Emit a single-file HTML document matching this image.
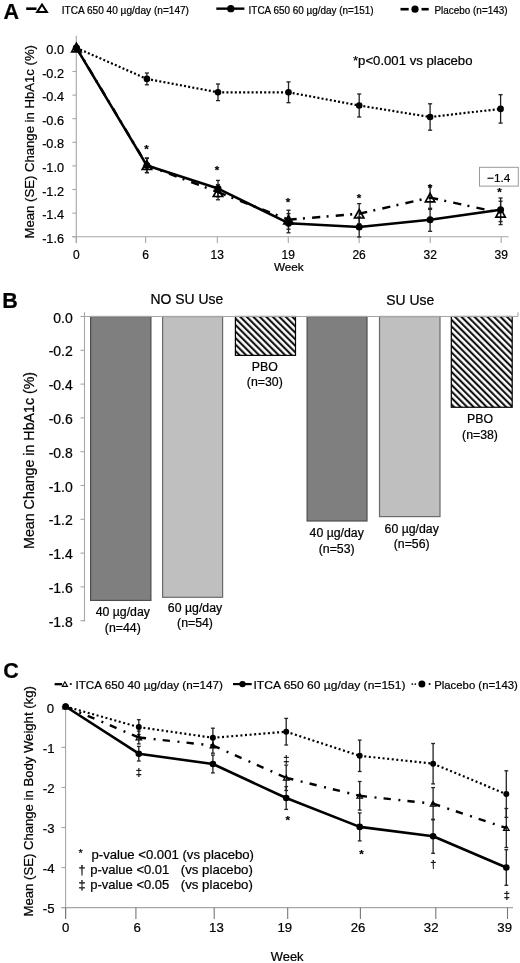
<!DOCTYPE html>
<html><head><meta charset="utf-8"><title>Figure</title>
<style>
html,body{margin:0;padding:0;background:#fff;}
svg{display:block;}
svg text{font-family:"Liberation Sans", Arial, sans-serif;fill:#000;stroke:#000;stroke-width:0.22px;}
</style></head>
<body>
<svg width="520" height="963" viewBox="0 0 520 963">
<rect width="520" height="963" fill="#fff"/>
<text x="3.5" y="18.8" font-size="21.5" text-anchor="start" font-weight="bold">A</text>
<line x1="26.2" y1="8.7" x2="36.5" y2="8.7" stroke="#000" stroke-width="2.6"/>
<polygon points="42.00,4.50 46.90,12.10 37.10,12.10" fill="none" stroke="#000" stroke-width="2.0" stroke-linejoin="miter"/>
<text x="61.7" y="14" font-size="10.2" text-anchor="start" textLength="127.3" lengthAdjust="spacingAndGlyphs">ITCA 650 40 µg/day (n=147)</text>
<line x1="216.3" y1="8.65" x2="244.4" y2="8.65" stroke="#000" stroke-width="2.4"/>
<circle cx="230.8" cy="8.65" r="3.7" fill="#000"/>
<text x="248.6" y="13.8" font-size="10.2" text-anchor="start" textLength="125" lengthAdjust="spacingAndGlyphs">ITCA 650 60 µg/day (n=151)</text>
<line x1="400.5" y1="9.2" x2="408.7" y2="9.2" stroke="#000" stroke-width="2.6"/>
<circle cx="415" cy="9.2" r="3.6" fill="#000"/>
<line x1="421.5" y1="9.2" x2="428.7" y2="9.2" stroke="#000" stroke-width="2.6"/>
<text x="434.5" y="13.9" font-size="10.2" text-anchor="start" textLength="73" lengthAdjust="spacingAndGlyphs">Placebo (n=143)</text>
<line x1="76.3" y1="35.8" x2="76.3" y2="243" stroke="#a6a6a6" stroke-width="1.1"/>
<line x1="72.4" y1="236.7" x2="508.6" y2="236.7" stroke="#a6a6a6" stroke-width="1.1"/>
<line x1="72.4" y1="47.9" x2="76.3" y2="47.9" stroke="#a6a6a6" stroke-width="1.1"/>
<text x="64.0" y="53.9" font-size="12.7" text-anchor="end">0.0</text>
<line x1="72.4" y1="71.5" x2="76.3" y2="71.5" stroke="#a6a6a6" stroke-width="1.1"/>
<text x="64.0" y="77.5" font-size="12.7" text-anchor="end">-0.2</text>
<line x1="72.4" y1="95.1" x2="76.3" y2="95.1" stroke="#a6a6a6" stroke-width="1.1"/>
<text x="64.0" y="101.1" font-size="12.7" text-anchor="end">-0.4</text>
<line x1="72.4" y1="118.7" x2="76.3" y2="118.7" stroke="#a6a6a6" stroke-width="1.1"/>
<text x="64.0" y="124.7" font-size="12.7" text-anchor="end">-0.6</text>
<line x1="72.4" y1="142.3" x2="76.3" y2="142.3" stroke="#a6a6a6" stroke-width="1.1"/>
<text x="64.0" y="148.3" font-size="12.7" text-anchor="end">-0.8</text>
<line x1="72.4" y1="165.9" x2="76.3" y2="165.9" stroke="#a6a6a6" stroke-width="1.1"/>
<text x="64.0" y="171.9" font-size="12.7" text-anchor="end">-1.0</text>
<line x1="72.4" y1="189.5" x2="76.3" y2="189.5" stroke="#a6a6a6" stroke-width="1.1"/>
<text x="64.0" y="195.5" font-size="12.7" text-anchor="end">-1.2</text>
<line x1="72.4" y1="213.1" x2="76.3" y2="213.1" stroke="#a6a6a6" stroke-width="1.1"/>
<text x="64.0" y="219.1" font-size="12.7" text-anchor="end">-1.4</text>
<line x1="72.4" y1="236.7" x2="76.3" y2="236.7" stroke="#a6a6a6" stroke-width="1.1"/>
<text x="64.0" y="242.7" font-size="12.7" text-anchor="end">-1.6</text>
<line x1="76.3" y1="236.7" x2="76.3" y2="243" stroke="#a6a6a6" stroke-width="1.1"/>
<text x="76.3" y="258.8" font-size="12" text-anchor="middle">0</text>
<line x1="145.6" y1="236.7" x2="145.6" y2="243" stroke="#a6a6a6" stroke-width="1.1"/>
<text x="145.6" y="258.8" font-size="12" text-anchor="middle">6</text>
<line x1="217.3" y1="236.7" x2="217.3" y2="243" stroke="#a6a6a6" stroke-width="1.1"/>
<text x="217.3" y="258.8" font-size="12" text-anchor="middle">13</text>
<line x1="288.3" y1="236.7" x2="288.3" y2="243" stroke="#a6a6a6" stroke-width="1.1"/>
<text x="288.3" y="258.8" font-size="12" text-anchor="middle">19</text>
<line x1="359.1" y1="236.7" x2="359.1" y2="243" stroke="#a6a6a6" stroke-width="1.1"/>
<text x="359.1" y="258.8" font-size="12" text-anchor="middle">26</text>
<line x1="430.2" y1="236.7" x2="430.2" y2="243" stroke="#a6a6a6" stroke-width="1.1"/>
<text x="430.2" y="258.8" font-size="12" text-anchor="middle">32</text>
<line x1="501.2" y1="236.7" x2="501.2" y2="243" stroke="#a6a6a6" stroke-width="1.1"/>
<text x="501.2" y="258.8" font-size="12" text-anchor="middle">39</text>
<text x="288.8" y="270.9" font-size="11.7" text-anchor="middle">Week</text>
<text transform="translate(33.6,238.5) rotate(-90)" font-size="13.3" textLength="193.5" lengthAdjust="spacingAndGlyphs">Mean (SE) Change in HbA1c (%)</text>
<text x="353" y="64.5" font-size="13" text-anchor="start" textLength="119.5" lengthAdjust="spacingAndGlyphs">*p&lt;0.001 vs placebo</text>
<line x1="146.9" y1="157.9" x2="146.9" y2="172.5" stroke="#222" stroke-width="1.3"/>
<line x1="144.85" y1="157.9" x2="148.95" y2="157.9" stroke="#222" stroke-width="1.3"/>
<line x1="144.85" y1="172.5" x2="148.95" y2="172.5" stroke="#222" stroke-width="1.3"/>
<line x1="146.9" y1="158.4" x2="146.9" y2="172.8" stroke="#222" stroke-width="1.3"/>
<line x1="144.85" y1="158.4" x2="148.95" y2="158.4" stroke="#222" stroke-width="1.3"/>
<line x1="144.85" y1="172.8" x2="148.95" y2="172.8" stroke="#222" stroke-width="1.3"/>
<line x1="146.9" y1="73.0" x2="146.9" y2="84.8" stroke="#222" stroke-width="1.3"/>
<line x1="144.85" y1="73.0" x2="148.95" y2="73.0" stroke="#222" stroke-width="1.3"/>
<line x1="144.85" y1="84.8" x2="148.95" y2="84.8" stroke="#222" stroke-width="1.3"/>
<line x1="218.0" y1="184.6" x2="218.0" y2="199.8" stroke="#222" stroke-width="1.3"/>
<line x1="215.95" y1="184.6" x2="220.05" y2="184.6" stroke="#222" stroke-width="1.3"/>
<line x1="215.95" y1="199.8" x2="220.05" y2="199.8" stroke="#222" stroke-width="1.3"/>
<line x1="218.0" y1="180.4" x2="218.0" y2="196.8" stroke="#222" stroke-width="1.3"/>
<line x1="215.95" y1="180.4" x2="220.05" y2="180.4" stroke="#222" stroke-width="1.3"/>
<line x1="215.95" y1="196.8" x2="220.05" y2="196.8" stroke="#222" stroke-width="1.3"/>
<line x1="218.0" y1="84.0" x2="218.0" y2="100.6" stroke="#222" stroke-width="1.3"/>
<line x1="215.95" y1="84.0" x2="220.05" y2="84.0" stroke="#222" stroke-width="1.3"/>
<line x1="215.95" y1="100.6" x2="220.05" y2="100.6" stroke="#222" stroke-width="1.3"/>
<line x1="288.5" y1="210.2" x2="288.5" y2="229.2" stroke="#222" stroke-width="1.3"/>
<line x1="286.45" y1="210.2" x2="290.55" y2="210.2" stroke="#222" stroke-width="1.3"/>
<line x1="286.45" y1="229.2" x2="290.55" y2="229.2" stroke="#222" stroke-width="1.3"/>
<line x1="288.5" y1="213.6" x2="288.5" y2="232.8" stroke="#222" stroke-width="1.3"/>
<line x1="286.45" y1="213.6" x2="290.55" y2="213.6" stroke="#222" stroke-width="1.3"/>
<line x1="286.45" y1="232.8" x2="290.55" y2="232.8" stroke="#222" stroke-width="1.3"/>
<line x1="288.5" y1="81.9" x2="288.5" y2="102.7" stroke="#222" stroke-width="1.3"/>
<line x1="286.45" y1="81.9" x2="290.55" y2="81.9" stroke="#222" stroke-width="1.3"/>
<line x1="286.45" y1="102.7" x2="290.55" y2="102.7" stroke="#222" stroke-width="1.3"/>
<line x1="359.2" y1="203.6" x2="359.2" y2="223.8" stroke="#222" stroke-width="1.3"/>
<line x1="357.15" y1="203.6" x2="361.25" y2="203.6" stroke="#222" stroke-width="1.3"/>
<line x1="357.15" y1="223.8" x2="361.25" y2="223.8" stroke="#222" stroke-width="1.3"/>
<line x1="359.2" y1="217.0" x2="359.2" y2="237.0" stroke="#222" stroke-width="1.3"/>
<line x1="357.15" y1="217.0" x2="361.25" y2="217.0" stroke="#222" stroke-width="1.3"/>
<line x1="357.15" y1="237.0" x2="361.25" y2="237.0" stroke="#222" stroke-width="1.3"/>
<line x1="359.2" y1="94.0" x2="359.2" y2="117.0" stroke="#222" stroke-width="1.3"/>
<line x1="357.15" y1="94.0" x2="361.25" y2="94.0" stroke="#222" stroke-width="1.3"/>
<line x1="357.15" y1="117.0" x2="361.25" y2="117.0" stroke="#222" stroke-width="1.3"/>
<line x1="430.1" y1="185.8" x2="430.1" y2="209.4" stroke="#222" stroke-width="1.3"/>
<line x1="428.05" y1="185.8" x2="432.15" y2="185.8" stroke="#222" stroke-width="1.3"/>
<line x1="428.05" y1="209.4" x2="432.15" y2="209.4" stroke="#222" stroke-width="1.3"/>
<line x1="430.1" y1="208.3" x2="430.1" y2="231.3" stroke="#222" stroke-width="1.3"/>
<line x1="428.05" y1="208.3" x2="432.15" y2="208.3" stroke="#222" stroke-width="1.3"/>
<line x1="428.05" y1="231.3" x2="432.15" y2="231.3" stroke="#222" stroke-width="1.3"/>
<line x1="430.1" y1="103.8" x2="430.1" y2="130.2" stroke="#222" stroke-width="1.3"/>
<line x1="428.05" y1="103.8" x2="432.15" y2="103.8" stroke="#222" stroke-width="1.3"/>
<line x1="428.05" y1="130.2" x2="432.15" y2="130.2" stroke="#222" stroke-width="1.3"/>
<line x1="500.6" y1="201.2" x2="500.6" y2="224.6" stroke="#222" stroke-width="1.3"/>
<line x1="498.55" y1="201.2" x2="502.65" y2="201.2" stroke="#222" stroke-width="1.3"/>
<line x1="498.55" y1="224.6" x2="502.65" y2="224.6" stroke="#222" stroke-width="1.3"/>
<line x1="500.6" y1="198.0" x2="500.6" y2="221.6" stroke="#222" stroke-width="1.3"/>
<line x1="498.55" y1="198.0" x2="502.65" y2="198.0" stroke="#222" stroke-width="1.3"/>
<line x1="498.55" y1="221.6" x2="502.65" y2="221.6" stroke="#222" stroke-width="1.3"/>
<line x1="500.6" y1="94.7" x2="500.6" y2="123.1" stroke="#222" stroke-width="1.3"/>
<line x1="498.55" y1="94.7" x2="502.65" y2="94.7" stroke="#222" stroke-width="1.3"/>
<line x1="498.55" y1="123.1" x2="502.65" y2="123.1" stroke="#222" stroke-width="1.3"/>
<line x1="76.4" y1="47.5" x2="146.9" y2="165.2" stroke="#000" stroke-width="2.5" stroke-dasharray="8.2 6.3 2 7.2" stroke-linecap="butt"/>
<line x1="146.9" y1="165.2" x2="218.0" y2="192.2" stroke="#000" stroke-width="2.5" stroke-dasharray="8.2 6.3 2 7.2" stroke-linecap="butt"/>
<line x1="218.0" y1="192.2" x2="288.5" y2="219.7" stroke="#000" stroke-width="2.5" stroke-dasharray="8.2 6.3 2 7.2" stroke-linecap="butt"/>
<line x1="288.5" y1="219.7" x2="359.2" y2="213.7" stroke="#000" stroke-width="2.5" stroke-dasharray="8.2 6.3 2 7.2" stroke-linecap="butt"/>
<line x1="359.2" y1="213.7" x2="430.1" y2="197.6" stroke="#000" stroke-width="2.5" stroke-dasharray="8.2 6.3 2 7.2" stroke-linecap="butt"/>
<line x1="430.1" y1="197.6" x2="500.6" y2="212.9" stroke="#000" stroke-width="2.5" stroke-dasharray="8.2 6.3 2 7.2" stroke-linecap="butt"/>
<polyline points="76.4,47.9 146.9,165.6 218.0,188.6 288.5,223.2 359.2,227.0 430.1,219.8 500.6,209.8" fill="none" stroke="#000" stroke-width="2.6" stroke-linejoin="round"/>
<line x1="76.4" y1="47.9" x2="146.9" y2="78.9" stroke="#000" stroke-width="2.2" stroke-dasharray="2 2.2" stroke-linecap="butt"/>
<line x1="146.9" y1="78.9" x2="218.0" y2="92.3" stroke="#000" stroke-width="2.2" stroke-dasharray="2 2.2" stroke-linecap="butt"/>
<line x1="218.0" y1="92.3" x2="288.5" y2="92.3" stroke="#000" stroke-width="2.2" stroke-dasharray="2 2.2" stroke-linecap="butt"/>
<line x1="288.5" y1="92.3" x2="359.2" y2="105.5" stroke="#000" stroke-width="2.2" stroke-dasharray="2 2.2" stroke-linecap="butt"/>
<line x1="359.2" y1="105.5" x2="430.1" y2="117.0" stroke="#000" stroke-width="2.2" stroke-dasharray="2 2.2" stroke-linecap="butt"/>
<line x1="430.1" y1="117.0" x2="500.6" y2="108.9" stroke="#000" stroke-width="2.2" stroke-dasharray="2 2.2" stroke-linecap="butt"/>
<polygon points="76.40,43.20 81.10,51.80 71.70,51.80" fill="none" stroke="#000" stroke-width="1.7" stroke-linejoin="miter"/>
<polygon points="146.90,160.90 151.60,169.50 142.20,169.50" fill="none" stroke="#000" stroke-width="1.7" stroke-linejoin="miter"/>
<polygon points="218.00,187.90 222.70,196.50 213.30,196.50" fill="none" stroke="#000" stroke-width="1.7" stroke-linejoin="miter"/>
<polygon points="288.50,215.40 293.20,224.00 283.80,224.00" fill="none" stroke="#000" stroke-width="1.7" stroke-linejoin="miter"/>
<polygon points="359.20,209.40 363.90,218.00 354.50,218.00" fill="none" stroke="#000" stroke-width="1.7" stroke-linejoin="miter"/>
<polygon points="430.10,193.30 434.80,201.90 425.40,201.90" fill="none" stroke="#000" stroke-width="1.7" stroke-linejoin="miter"/>
<polygon points="500.60,208.60 505.30,217.20 495.90,217.20" fill="none" stroke="#000" stroke-width="1.7" stroke-linejoin="miter"/>
<circle cx="76.4" cy="47.9" r="3.5" fill="#000"/>
<circle cx="146.9" cy="165.6" r="3.5" fill="#000"/>
<circle cx="218.0" cy="188.6" r="3.5" fill="#000"/>
<circle cx="288.5" cy="223.2" r="3.5" fill="#000"/>
<circle cx="359.2" cy="227.0" r="3.5" fill="#000"/>
<circle cx="430.1" cy="219.8" r="3.5" fill="#000"/>
<circle cx="500.6" cy="209.8" r="3.5" fill="#000"/>
<circle cx="76.4" cy="47.9" r="3.3" fill="#000"/>
<circle cx="146.9" cy="78.9" r="3.3" fill="#000"/>
<circle cx="218.0" cy="92.3" r="3.3" fill="#000"/>
<circle cx="288.5" cy="92.3" r="3.3" fill="#000"/>
<circle cx="359.2" cy="105.5" r="3.3" fill="#000"/>
<circle cx="430.1" cy="117.0" r="3.3" fill="#000"/>
<circle cx="500.6" cy="108.9" r="3.3" fill="#000"/>
<text x="146.6" y="152.6" font-size="11.5" text-anchor="middle" font-weight="bold">*</text>
<text x="216.9" y="174.0" font-size="11.5" text-anchor="middle" font-weight="bold">*</text>
<text x="288" y="206.1" font-size="11.5" text-anchor="middle" font-weight="bold">*</text>
<text x="359" y="201.8" font-size="11.5" text-anchor="middle" font-weight="bold">*</text>
<text x="430" y="191.7" font-size="11.5" text-anchor="middle" font-weight="bold">*</text>
<text x="499.6" y="196.3" font-size="11.5" text-anchor="middle" font-weight="bold">*</text>
<rect x="479.5" y="167.3" width="38.8" height="18.8" fill="#fff" stroke="#9a9a9a" stroke-width="1"/>
<text x="498.8" y="181.6" font-size="11.8" text-anchor="middle">−1.4</text>
<text x="2.3" y="308" font-size="21.5" text-anchor="start" font-weight="bold">B</text>
<text x="150.5" y="303.75" font-size="14" text-anchor="start" textLength="72.7" lengthAdjust="spacingAndGlyphs">NO SU Use</text>
<text x="386.3" y="304.8" font-size="14.2" text-anchor="start" textLength="48" lengthAdjust="spacingAndGlyphs">SU Use</text>
<defs><pattern id="hatch" patternUnits="userSpaceOnUse" width="4.6" height="4.6" patternTransform="rotate(45)"><rect x="0" y="2.5" width="4.6" height="1.95" fill="#000"/></pattern></defs>
<rect x="90.6" y="316.5" width="60.30" height="283.92" fill="#7f7f7f" stroke="#4d4d4d" stroke-width="1.2"/>
<rect x="162.6" y="316.5" width="60.00" height="280.79" fill="#bfbfbf" stroke="#6a6a6a" stroke-width="1.2"/>
<rect x="235.4" y="316.5" width="60.10" height="38.87" fill="#fff"/>
<rect x="235.4" y="316.5" width="60.10" height="38.87" fill="url(#hatch)" stroke="#000" stroke-width="1.2"/>
<rect x="307.1" y="316.5" width="59.90" height="204.49" fill="#7f7f7f" stroke="#4d4d4d" stroke-width="1.2"/>
<rect x="379.5" y="316.5" width="60.50" height="200.10" fill="#bfbfbf" stroke="#6a6a6a" stroke-width="1.2"/>
<rect x="451.3" y="316.5" width="60.90" height="90.75" fill="#fff"/>
<rect x="451.3" y="316.5" width="60.90" height="90.75" fill="url(#hatch)" stroke="#000" stroke-width="1.2"/>
<line x1="84.5" y1="312.2" x2="84.5" y2="621.4" stroke="#a6a6a6" stroke-width="1.1"/>
<line x1="84.5" y1="316.5" x2="518" y2="316.5" stroke="#a6a6a6" stroke-width="1.1"/>
<line x1="518" y1="312.3" x2="518" y2="316.5" stroke="#a6a6a6" stroke-width="1.1"/>
<line x1="80.5" y1="316.5" x2="84.5" y2="316.5" stroke="#a6a6a6" stroke-width="1.1"/>
<text x="72.8" y="322.6" font-size="14" text-anchor="end">0.0</text>
<line x1="80.5" y1="350.3" x2="84.5" y2="350.3" stroke="#a6a6a6" stroke-width="1.1"/>
<text x="72.8" y="356.4" font-size="14" text-anchor="end">-0.2</text>
<line x1="80.5" y1="384.1" x2="84.5" y2="384.1" stroke="#a6a6a6" stroke-width="1.1"/>
<text x="72.8" y="390.2" font-size="14" text-anchor="end">-0.4</text>
<line x1="80.5" y1="417.9" x2="84.5" y2="417.9" stroke="#a6a6a6" stroke-width="1.1"/>
<text x="72.8" y="424.0" font-size="14" text-anchor="end">-0.6</text>
<line x1="80.5" y1="451.7" x2="84.5" y2="451.7" stroke="#a6a6a6" stroke-width="1.1"/>
<text x="72.8" y="457.8" font-size="14" text-anchor="end">-0.8</text>
<line x1="80.5" y1="485.5" x2="84.5" y2="485.5" stroke="#a6a6a6" stroke-width="1.1"/>
<text x="72.8" y="491.6" font-size="14" text-anchor="end">-1.0</text>
<line x1="80.5" y1="519.3" x2="84.5" y2="519.3" stroke="#a6a6a6" stroke-width="1.1"/>
<text x="72.8" y="525.4" font-size="14" text-anchor="end">-1.2</text>
<line x1="80.5" y1="553.1" x2="84.5" y2="553.1" stroke="#a6a6a6" stroke-width="1.1"/>
<text x="72.8" y="559.2" font-size="14" text-anchor="end">-1.4</text>
<line x1="80.5" y1="586.9" x2="84.5" y2="586.9" stroke="#a6a6a6" stroke-width="1.1"/>
<text x="72.8" y="593.0" font-size="14" text-anchor="end">-1.6</text>
<line x1="80.5" y1="620.7" x2="84.5" y2="620.7" stroke="#a6a6a6" stroke-width="1.1"/>
<text x="72.8" y="626.8" font-size="14" text-anchor="end">-1.8</text>
<text transform="translate(34.3,548.9) rotate(-90)" font-size="13.8" textLength="177" lengthAdjust="spacingAndGlyphs">Mean Change in HbA1c (%)</text>
<text x="122.8" y="616.3" font-size="12.3" text-anchor="middle">40 µg/day</text>
<text x="122.8" y="631.9" font-size="12.3" text-anchor="middle">(n=44)</text>
<text x="195" y="611.6" font-size="12.3" text-anchor="middle">60 µg/day</text>
<text x="195" y="627.2" font-size="12.3" text-anchor="middle">(n=54)</text>
<text x="264.8" y="370.6" font-size="12.3" text-anchor="middle">PBO</text>
<text x="264.8" y="386.2" font-size="12.3" text-anchor="middle">(n=30)</text>
<text x="336.7" y="537.3" font-size="12.3" text-anchor="middle">40 µg/day</text>
<text x="336.7" y="552.9" font-size="12.3" text-anchor="middle">(n=53)</text>
<text x="411.7" y="532.8" font-size="12.3" text-anchor="middle">60 µg/day</text>
<text x="411.7" y="548.4" font-size="12.3" text-anchor="middle">(n=56)</text>
<text x="480" y="423.2" font-size="12.3" text-anchor="middle">PBO</text>
<text x="480" y="438.8" font-size="12.3" text-anchor="middle">(n=38)</text>
<text x="3.2" y="677.8" font-size="21.5" text-anchor="start" font-weight="bold">C</text>
<line x1="54.6" y1="684.2" x2="62.2" y2="684.2" stroke="#000" stroke-width="2.3"/>
<polygon points="64.90,681.80 67.50,686.40 62.30,686.40" fill="none" stroke="#000" stroke-width="1.1" stroke-linejoin="miter"/>
<circle cx="70.8" cy="684" r="1.1" fill="#000"/>
<text x="75.4" y="689.4" font-size="11.8" text-anchor="start" textLength="147.5" lengthAdjust="spacingAndGlyphs">ITCA 650 40 µg/day (n=147)</text>
<line x1="233" y1="684.1" x2="251.7" y2="684.1" stroke="#000" stroke-width="2.2"/>
<circle cx="242.5" cy="684.1" r="3.2" fill="#000"/>
<text x="253.5" y="689.4" font-size="11.8" text-anchor="start" textLength="152" lengthAdjust="spacingAndGlyphs">ITCA 650 60 µg/day (n=151)</text>
<circle cx="412.3" cy="684.1" r="0.9" fill="#000"/>
<circle cx="415.3" cy="684.1" r="0.9" fill="#000"/>
<circle cx="421.9" cy="684.1" r="3.5" fill="#000"/>
<circle cx="429.6" cy="684.1" r="1.0" fill="#000"/>
<text x="434.2" y="689.4" font-size="11.8" text-anchor="start" textLength="83.6" lengthAdjust="spacingAndGlyphs">Placebo (n=143)</text>
<line x1="65.6" y1="707.4" x2="65.6" y2="918.5" stroke="#a6a6a6" stroke-width="1.1"/>
<line x1="61.5" y1="907.6" x2="513" y2="907.6" stroke="#a6a6a6" stroke-width="1.1"/>
<line x1="61.5" y1="707.4" x2="65.6" y2="707.4" stroke="#a6a6a6" stroke-width="1.1"/>
<text x="54.0" y="712.6" font-size="13.2" text-anchor="end">0</text>
<line x1="61.5" y1="747.44" x2="65.6" y2="747.44" stroke="#a6a6a6" stroke-width="1.1"/>
<text x="54.6" y="752.64" font-size="13.2" text-anchor="end">-1</text>
<line x1="61.5" y1="787.48" x2="65.6" y2="787.48" stroke="#a6a6a6" stroke-width="1.1"/>
<text x="54.6" y="792.68" font-size="13.2" text-anchor="end">-2</text>
<line x1="61.5" y1="827.52" x2="65.6" y2="827.52" stroke="#a6a6a6" stroke-width="1.1"/>
<text x="54.6" y="832.72" font-size="13.2" text-anchor="end">-3</text>
<line x1="61.5" y1="867.56" x2="65.6" y2="867.56" stroke="#a6a6a6" stroke-width="1.1"/>
<text x="54.6" y="872.76" font-size="13.2" text-anchor="end">-4</text>
<line x1="61.5" y1="907.6" x2="65.6" y2="907.6" stroke="#a6a6a6" stroke-width="1.1"/>
<text x="54.6" y="912.8" font-size="13.2" text-anchor="end">-5</text>
<line x1="65.6" y1="907.6" x2="65.6" y2="919" stroke="#777" stroke-width="1.1"/>
<text x="65.6" y="932.2" font-size="13.2" text-anchor="middle">0</text>
<line x1="135.9" y1="907.6" x2="135.9" y2="919" stroke="#777" stroke-width="1.1"/>
<text x="137.1" y="932.2" font-size="13.2" text-anchor="middle">6</text>
<line x1="214.2" y1="907.6" x2="214.2" y2="919" stroke="#777" stroke-width="1.1"/>
<text x="216.4" y="932.2" font-size="13.2" text-anchor="middle">13</text>
<line x1="287.7" y1="907.6" x2="287.7" y2="919" stroke="#777" stroke-width="1.1"/>
<text x="284.8" y="932.2" font-size="13.2" text-anchor="middle">19</text>
<line x1="360.4" y1="907.6" x2="360.4" y2="919" stroke="#777" stroke-width="1.1"/>
<text x="358.1" y="932.2" font-size="13.2" text-anchor="middle">26</text>
<line x1="435.8" y1="907.6" x2="435.8" y2="919" stroke="#777" stroke-width="1.1"/>
<text x="431.2" y="932.2" font-size="13.2" text-anchor="middle">32</text>
<line x1="507.5" y1="907.6" x2="507.5" y2="919" stroke="#777" stroke-width="1.1"/>
<text x="504.7" y="932.2" font-size="13.2" text-anchor="middle">39</text>
<text x="287.2" y="960.8" font-size="12.9" text-anchor="middle">Week</text>
<text transform="translate(33.3,916.4) rotate(-90)" font-size="12.8" textLength="230.2" lengthAdjust="spacingAndGlyphs">Mean (SE) Change in Body Weight (kg)</text>
<text x="80.6" y="857.2" font-size="11" text-anchor="middle">*</text>
<text x="91.5" y="858.8" font-size="13" text-anchor="start" textLength="162.5" lengthAdjust="spacingAndGlyphs">p-value &lt;0.001 (vs placebo)</text>
<text x="81.9" y="873.5" font-size="12.5" text-anchor="middle">†</text>
<text x="90.2" y="873.5" font-size="13" text-anchor="start">p-value &lt;0.01</text>
<text x="180.8" y="873.5" font-size="13" text-anchor="start" textLength="72" lengthAdjust="spacingAndGlyphs">(vs placebo)</text>
<text x="81.9" y="888.8" font-size="12.5" text-anchor="middle">‡</text>
<text x="90.2" y="888.8" font-size="13" text-anchor="start">p-value &lt;0.05</text>
<text x="180.8" y="888.8" font-size="13" text-anchor="start" textLength="72" lengthAdjust="spacingAndGlyphs">(vs placebo)</text>
<line x1="138.8" y1="731.1" x2="138.8" y2="743.9" stroke="#222" stroke-width="1.3"/>
<line x1="136.9" y1="731.1" x2="140.7" y2="731.1" stroke="#222" stroke-width="1.3"/>
<line x1="136.9" y1="743.9" x2="140.7" y2="743.9" stroke="#222" stroke-width="1.3"/>
<line x1="138.8" y1="746.4" x2="138.8" y2="761.0" stroke="#222" stroke-width="1.3"/>
<line x1="136.9" y1="746.4" x2="140.7" y2="746.4" stroke="#222" stroke-width="1.3"/>
<line x1="136.9" y1="761.0" x2="140.7" y2="761.0" stroke="#222" stroke-width="1.3"/>
<line x1="138.8" y1="719.7" x2="138.8" y2="734.5" stroke="#222" stroke-width="1.3"/>
<line x1="136.9" y1="719.7" x2="140.7" y2="719.7" stroke="#222" stroke-width="1.3"/>
<line x1="136.9" y1="734.5" x2="140.7" y2="734.5" stroke="#222" stroke-width="1.3"/>
<line x1="212.9" y1="737.8" x2="212.9" y2="753.2" stroke="#222" stroke-width="1.3"/>
<line x1="211.0" y1="737.8" x2="214.8" y2="737.8" stroke="#222" stroke-width="1.3"/>
<line x1="211.0" y1="753.2" x2="214.8" y2="753.2" stroke="#222" stroke-width="1.3"/>
<line x1="212.9" y1="755.1" x2="212.9" y2="772.9" stroke="#222" stroke-width="1.3"/>
<line x1="211.0" y1="755.1" x2="214.8" y2="755.1" stroke="#222" stroke-width="1.3"/>
<line x1="211.0" y1="772.9" x2="214.8" y2="772.9" stroke="#222" stroke-width="1.3"/>
<line x1="212.9" y1="728.2" x2="212.9" y2="747.4" stroke="#222" stroke-width="1.3"/>
<line x1="211.0" y1="728.2" x2="214.8" y2="728.2" stroke="#222" stroke-width="1.3"/>
<line x1="211.0" y1="747.4" x2="214.8" y2="747.4" stroke="#222" stroke-width="1.3"/>
<line x1="286.2" y1="765.1" x2="286.2" y2="790.5" stroke="#222" stroke-width="1.3"/>
<line x1="284.3" y1="765.1" x2="288.1" y2="765.1" stroke="#222" stroke-width="1.3"/>
<line x1="284.3" y1="790.5" x2="288.1" y2="790.5" stroke="#222" stroke-width="1.3"/>
<line x1="286.2" y1="786.6" x2="286.2" y2="809.4" stroke="#222" stroke-width="1.3"/>
<line x1="284.3" y1="786.6" x2="288.1" y2="786.6" stroke="#222" stroke-width="1.3"/>
<line x1="284.3" y1="809.4" x2="288.1" y2="809.4" stroke="#222" stroke-width="1.3"/>
<line x1="286.2" y1="718.4" x2="286.2" y2="745.0" stroke="#222" stroke-width="1.3"/>
<line x1="284.3" y1="718.4" x2="288.1" y2="718.4" stroke="#222" stroke-width="1.3"/>
<line x1="284.3" y1="745.0" x2="288.1" y2="745.0" stroke="#222" stroke-width="1.3"/>
<line x1="359.7" y1="781.5" x2="359.7" y2="810.1" stroke="#222" stroke-width="1.3"/>
<line x1="357.8" y1="781.5" x2="361.6" y2="781.5" stroke="#222" stroke-width="1.3"/>
<line x1="357.8" y1="810.1" x2="361.6" y2="810.1" stroke="#222" stroke-width="1.3"/>
<line x1="359.7" y1="812.9" x2="359.7" y2="840.9" stroke="#222" stroke-width="1.3"/>
<line x1="357.8" y1="812.9" x2="361.6" y2="812.9" stroke="#222" stroke-width="1.3"/>
<line x1="357.8" y1="840.9" x2="361.6" y2="840.9" stroke="#222" stroke-width="1.3"/>
<line x1="359.7" y1="740.1" x2="359.7" y2="771.5" stroke="#222" stroke-width="1.3"/>
<line x1="357.8" y1="740.1" x2="361.6" y2="740.1" stroke="#222" stroke-width="1.3"/>
<line x1="357.8" y1="771.5" x2="361.6" y2="771.5" stroke="#222" stroke-width="1.3"/>
<line x1="433.1" y1="787.6" x2="433.1" y2="819.8" stroke="#222" stroke-width="1.3"/>
<line x1="431.2" y1="787.6" x2="435.0" y2="787.6" stroke="#222" stroke-width="1.3"/>
<line x1="431.2" y1="819.8" x2="435.0" y2="819.8" stroke="#222" stroke-width="1.3"/>
<line x1="433.1" y1="819.3" x2="433.1" y2="853.3" stroke="#222" stroke-width="1.3"/>
<line x1="431.2" y1="819.3" x2="435.0" y2="819.3" stroke="#222" stroke-width="1.3"/>
<line x1="431.2" y1="853.3" x2="435.0" y2="853.3" stroke="#222" stroke-width="1.3"/>
<line x1="433.1" y1="743.5" x2="433.1" y2="783.9" stroke="#222" stroke-width="1.3"/>
<line x1="431.2" y1="743.5" x2="435.0" y2="743.5" stroke="#222" stroke-width="1.3"/>
<line x1="431.2" y1="783.9" x2="435.0" y2="783.9" stroke="#222" stroke-width="1.3"/>
<line x1="506.3" y1="808.5" x2="506.3" y2="847.5" stroke="#222" stroke-width="1.3"/>
<line x1="504.4" y1="808.5" x2="508.2" y2="808.5" stroke="#222" stroke-width="1.3"/>
<line x1="504.4" y1="847.5" x2="508.2" y2="847.5" stroke="#222" stroke-width="1.3"/>
<line x1="506.3" y1="849.7" x2="506.3" y2="885.3" stroke="#222" stroke-width="1.3"/>
<line x1="504.4" y1="849.7" x2="508.2" y2="849.7" stroke="#222" stroke-width="1.3"/>
<line x1="504.4" y1="885.3" x2="508.2" y2="885.3" stroke="#222" stroke-width="1.3"/>
<line x1="506.3" y1="770.8" x2="506.3" y2="817.4" stroke="#222" stroke-width="1.3"/>
<line x1="504.4" y1="770.8" x2="508.2" y2="770.8" stroke="#222" stroke-width="1.3"/>
<line x1="504.4" y1="817.4" x2="508.2" y2="817.4" stroke="#222" stroke-width="1.3"/>
<line x1="65.6" y1="706.5" x2="138.8" y2="737.5" stroke="#000" stroke-width="2.4" stroke-dasharray="7.3 7.6 2 7.1" stroke-linecap="butt"/>
<line x1="138.8" y1="737.5" x2="212.9" y2="745.5" stroke="#000" stroke-width="2.4" stroke-dasharray="7.3 7.6 2 7.1" stroke-linecap="butt"/>
<line x1="212.9" y1="745.5" x2="286.2" y2="777.8" stroke="#000" stroke-width="2.4" stroke-dasharray="7.3 7.6 2 7.1" stroke-linecap="butt"/>
<line x1="286.2" y1="777.8" x2="359.7" y2="795.8" stroke="#000" stroke-width="2.4" stroke-dasharray="7.3 7.6 2 7.1" stroke-linecap="butt"/>
<line x1="359.7" y1="795.8" x2="433.1" y2="803.7" stroke="#000" stroke-width="2.4" stroke-dasharray="7.3 7.6 2 7.1" stroke-linecap="butt"/>
<line x1="433.1" y1="803.7" x2="506.3" y2="828.0" stroke="#000" stroke-width="2.4" stroke-dasharray="7.3 7.6 2 7.1" stroke-linecap="butt"/>
<polyline points="65.6,706.5 138.8,753.7 212.9,764.0 286.2,798.0 359.7,826.9 433.1,836.3 506.3,867.5" fill="none" stroke="#000" stroke-width="2.6" stroke-linejoin="round"/>
<line x1="65.6" y1="706.5" x2="138.8" y2="727.1" stroke="#000" stroke-width="2.2" stroke-dasharray="2 2.6" stroke-linecap="butt"/>
<line x1="138.8" y1="727.1" x2="212.9" y2="737.8" stroke="#000" stroke-width="2.2" stroke-dasharray="2 2.6" stroke-linecap="butt"/>
<line x1="212.9" y1="737.8" x2="286.2" y2="731.7" stroke="#000" stroke-width="2.2" stroke-dasharray="2 2.6" stroke-linecap="butt"/>
<line x1="286.2" y1="731.7" x2="359.7" y2="755.8" stroke="#000" stroke-width="2.2" stroke-dasharray="2 2.6" stroke-linecap="butt"/>
<line x1="359.7" y1="755.8" x2="433.1" y2="763.7" stroke="#000" stroke-width="2.2" stroke-dasharray="2 2.6" stroke-linecap="butt"/>
<line x1="433.1" y1="763.7" x2="506.3" y2="794.1" stroke="#000" stroke-width="2.2" stroke-dasharray="2 2.6" stroke-linecap="butt"/>
<polygon points="65.60,704.10 68.40,708.90 62.80,708.90" fill="none" stroke="#000" stroke-width="1.2" stroke-linejoin="miter"/>
<polygon points="138.80,735.10 141.60,739.90 136.00,739.90" fill="none" stroke="#000" stroke-width="1.2" stroke-linejoin="miter"/>
<polygon points="212.90,743.10 215.70,747.90 210.10,747.90" fill="none" stroke="#000" stroke-width="1.2" stroke-linejoin="miter"/>
<polygon points="286.20,775.40 289.00,780.20 283.40,780.20" fill="none" stroke="#000" stroke-width="1.2" stroke-linejoin="miter"/>
<polygon points="359.70,793.40 362.50,798.20 356.90,798.20" fill="none" stroke="#000" stroke-width="1.2" stroke-linejoin="miter"/>
<polygon points="433.10,801.30 435.90,806.10 430.30,806.10" fill="none" stroke="#000" stroke-width="1.2" stroke-linejoin="miter"/>
<polygon points="506.30,825.60 509.10,830.40 503.50,830.40" fill="none" stroke="#000" stroke-width="1.2" stroke-linejoin="miter"/>
<circle cx="65.6" cy="706.5" r="3.3" fill="#000"/>
<circle cx="138.8" cy="753.7" r="3.3" fill="#000"/>
<circle cx="212.9" cy="764.0" r="3.3" fill="#000"/>
<circle cx="286.2" cy="798.0" r="3.3" fill="#000"/>
<circle cx="359.7" cy="826.9" r="3.3" fill="#000"/>
<circle cx="433.1" cy="836.3" r="3.3" fill="#000"/>
<circle cx="506.3" cy="867.5" r="3.3" fill="#000"/>
<circle cx="65.6" cy="706.5" r="3.0" fill="#000"/>
<circle cx="138.8" cy="727.1" r="3.0" fill="#000"/>
<circle cx="212.9" cy="737.8" r="3.0" fill="#000"/>
<circle cx="286.2" cy="731.7" r="3.0" fill="#000"/>
<circle cx="359.7" cy="755.8" r="3.0" fill="#000"/>
<circle cx="433.1" cy="763.7" r="3.0" fill="#000"/>
<circle cx="506.3" cy="794.1" r="3.0" fill="#000"/>
<text x="138.7" y="776.0" font-size="11" text-anchor="middle">‡</text>
<text x="286.2" y="763.0" font-size="11" text-anchor="middle">‡</text>
<text x="287.8" y="824.3" font-size="11.5" text-anchor="middle" font-weight="bold">*</text>
<text x="361.4" y="857.7" font-size="11.5" text-anchor="middle" font-weight="bold">*</text>
<text x="433.2" y="867.7" font-size="11" text-anchor="middle">†</text>
<text x="506.8" y="899.3" font-size="11" text-anchor="middle">‡</text>
</svg>
</body></html>
